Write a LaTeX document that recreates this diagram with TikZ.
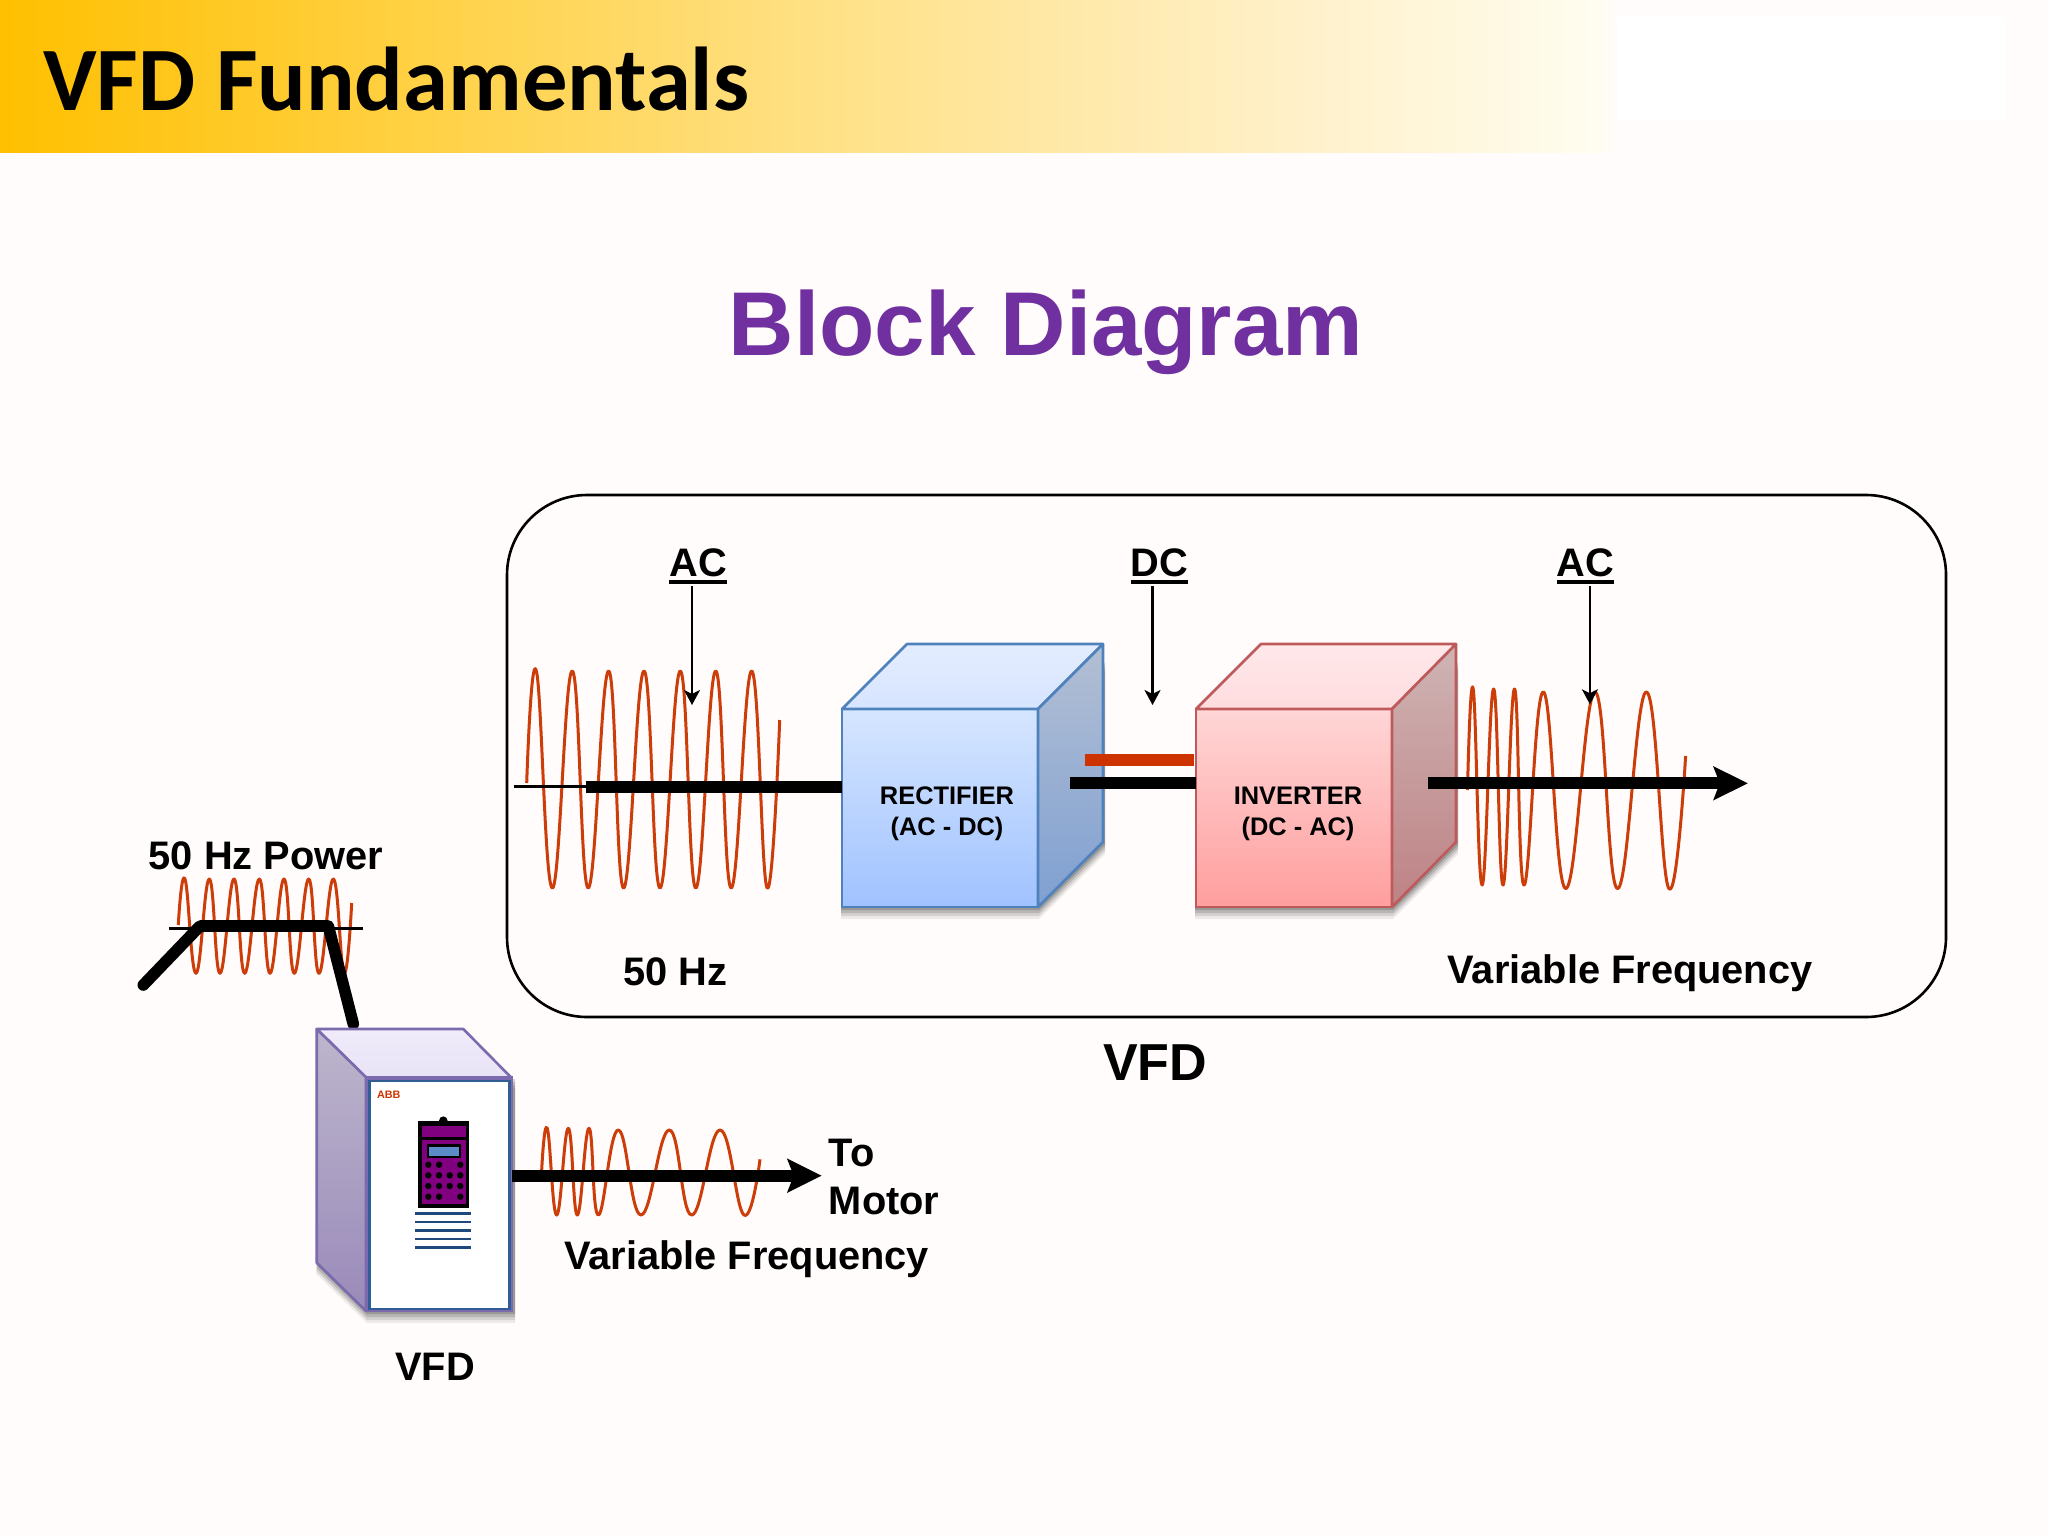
\documentclass[tikz,border=0pt]{standalone}
\usepackage{fontspec}
\setmainfont{Liberation Sans}
\newfontfamily\carlito{Carlito}
\usetikzlibrary{arrows.meta}
\definecolor{pagebg}{HTML}{FFFCFB}
\definecolor{wavered}{HTML}{CC3D0A}
\definecolor{barred}{HTML}{CC3300}
\definecolor{titlepurple}{HTML}{7030A0}
\definecolor{bluedge}{HTML}{4F81BD}
\definecolor{rededge}{HTML}{BE5A5C}
\definecolor{purpedge}{HTML}{7B6BAE}
\definecolor{frontblue}{HTML}{2F5D94}
\definecolor{padpurple}{HTML}{800080}
\definecolor{padblue}{HTML}{5B8CC8}
\definecolor{padline}{HTML}{1F497D}
\definecolor{headA}{HTML}{FFC000}
\definecolor{headB}{HTML}{FFE082}
\definecolor{headC}{HTML}{FFF0C8}
\definecolor{headD}{HTML}{FFFDF0}
\definecolor{blueF1}{HTML}{D6E6FF}
\definecolor{blueF2}{HTML}{A0C2FF}
\definecolor{blueT1}{HTML}{E4EDFF}
\definecolor{blueT2}{HTML}{D6E4FF}
\definecolor{blueS1}{HTML}{B3BFD3}
\definecolor{blueS2}{HTML}{7FA0D2}
\definecolor{redF1}{HTML}{FFD6D6}
\definecolor{redF2}{HTML}{FF9E9E}
\definecolor{redT1}{HTML}{FFE8EA}
\definecolor{redT2}{HTML}{FFDCDE}
\definecolor{redS1}{HTML}{CFB4B4}
\definecolor{redS2}{HTML}{BE8284}
\definecolor{purpT1}{HTML}{F0ECFA}
\definecolor{purpT2}{HTML}{E8E2F6}
\definecolor{purpS1}{HTML}{BDB6CC}
\definecolor{purpS2}{HTML}{9A8ABA}
% the path covers 25bp..75bp of a shading
\pgfdeclarehorizontalshading{headbar}{100bp}{
  color(0bp)=(headA); color(25bp)=(headA);
  color(44.5bp)=(headB); color(56.5bp)=(headC);
  color(64bp)=(headD); color(64.5bp)=(pagebg); color(100bp)=(pagebg)}
\newcommand\fs[1]{\fontsize{#1}{#1}\selectfont}
\newcommand\ulbox[1]{\setbox0\hbox{#1}\rlap{\rule[-4pt]{\wd0}{2.1pt}}\box0}
\tikzset{
  wave/.style={draw=wavered,line width=1.5pt,line join=round},
  thinaxis/.style={draw=black,line width=1.25pt},
  bar/.style={draw=black,line width=5.9pt},
  bigarrow/.style={bar,-{Stealth[length=17pt,width=16.5pt,inset=3pt]}},
  pointer/.style={draw=black,line width=1.2pt,-{Stealth[length=7.5pt,width=8pt,inset=2pt]}},
  lab/.style={anchor=base,inner sep=0pt,font=\bfseries\fs{19.9}},
  blocklab/.style={anchor=base,inner sep=0pt,font=\bfseries\fs{12.7}},
  front/.style={rectangle,draw,line width=1.3pt,inner sep=0pt,outer sep=0pt,anchor=north west},
  face/.style={line width=1.3pt,line join=round},
  padkey/.style={circle,fill=black,inner sep=0pt,minimum size=3.2pt}
}
\begin{document}
\begin{tikzpicture}[x=0.5pt,y=-0.5pt]
  \useasboundingbox (0,0) rectangle (2048,1536);
  \fill[pagebg] (0,0) rectangle (2048,1536);

  % header
  \shade[shading=headbar] (0,0) rectangle (2048,152);
  \fill[white] (1617,17) rectangle (2005,120);
  \node[anchor=base west,inner sep=0pt,font=\carlito\bfseries\fs{45.3}] (head) at (43,111) {VFD Fundamentals};
  \node[anchor=base,inner sep=0pt,text=titlepurple,font=\bfseries\fs{45.3}] (title) at (1046,355) {Block Diagram};

  % frame
  \draw[black,line width=1.3pt,rounded corners=40pt] (507,495) rectangle (1946,1017);
  \node[anchor=base,inner sep=0pt,font=\bfseries\fs{26}] (vfdbig) at (1155,1080) {VFD};

  % wave in
  \coordinate (axisL) at (513.6,786.7);
  \coordinate (barL) at (585.8,786.7);
  \draw[wave] plot[smooth,tension=0.75] coordinates {(526.7,783) (536.4,671) (552.4,888) (572.2,671) (588.2,888) (608.6,671) (623.6,888) (644,671) (660,888) (680.3,671) (695.8,888) (715.7,671) (731.2,888) (751.6,671) (767.1,888) (779.7,720)};
  \draw[thinaxis] (axisL) -- (barL);

  % rectifier cube
  \foreach \d/\o in {12/.07,9/.10,6/.13,3/.16}{
    \fill[black,opacity=\o,shift={(1,\d)}] (840,709) -- (840,907) -- (1038,907) -- (1104,842) -- (1104,660) -- (1038,709) -- cycle;
  }
  \node[front,draw=bluedge,top color=blueF1,bottom color=blueF2,minimum width=98pt,minimum height=99pt] (rect) at (842,709) {};
  \draw[face,draw=bluedge,top color=blueT1,bottom color=blueT2] (rect.north west) -- (907,644) -- (1103,644) -- (rect.north east) -- cycle;
  \draw[face,draw=bluedge,top color=blueS1,bottom color=blueS2] (rect.north east) -- (1103,644) -- (1103,842) -- (rect.south east) -- cycle;
  \node[blocklab] (rect1) at (947,804) {RECTIFIER};
  \node[blocklab] (rect2) at (947,835) {(AC - DC)};
  \draw[bar] (barL) -- (rect.west |- barL);

  % inverter cube
  \foreach \d/\o in {12/.07,9/.10,6/.13,3/.16}{
    \fill[black,opacity=\o,shift={(1,\d)}] (1194,709) -- (1194,907) -- (1392,907) -- (1457,842) -- (1457,660) -- (1392,709) -- cycle;
  }
  \node[front,draw=rededge,top color=redF1,bottom color=redF2,minimum width=98pt,minimum height=99pt] (inv) at (1196,709) {};
  \draw[face,draw=rededge,top color=redT1,bottom color=redT2] (inv.north west) -- (1261,644) -- (1456,644) -- (inv.north east) -- cycle;
  \draw[face,draw=rededge,top color=redS1,bottom color=redS2] (inv.north east) -- (1456,644) -- (1456,842) -- (inv.south east) -- cycle;
  \node[blocklab] (inv1) at (1298,804) {INVERTER};
  \node[blocklab] (inv2) at (1298,835) {(DC - AC)};

  % dc link
  \coordinate (dcR) at (1085,760);
  \coordinate (dcB) at (1069.6,783.3);
  \draw[line width=5.7pt,barred] (dcR) -- ([xshift=-1pt]inv.west |- dcR);
  \draw[bar] (dcB) -- (inv.west |- dcB);

  % wave out
  \draw[wave] plot[smooth,tension=0.75] coordinates {(1467.5,790) (1473.2,689) (1482.1,885) (1493.6,689) (1503,885) (1514.5,689) (1524,885) (1543.3,692) (1565.8,888.5) (1595,692) (1617.6,888.5) (1646.3,692) (1668.8,888.5) (1685.6,756)};
  \coordinate (outS) at (1427.7,783.3);
  \coordinate (outE) at (1747.8,783.3);
  \draw[bigarrow] (outS) -- (outE);

  % pointers and their labels
  \node[lab] (ac1) at (698,576) {\ulbox{AC}};
  \node[lab] (dc) at (1159.5,576) {\ulbox{DC}};
  \node[lab] (ac2) at (1585.5,576) {\ulbox{AC}};
  \coordinate (tipA) at (692,705);
  \coordinate (tipB) at (1152.5,705);
  \coordinate (tipC) at (1589.9,704.3);
  \draw[pointer] (692,586) -- (tipA);
  \draw[pointer] (1152.5,586) -- (tipB);
  \draw[pointer] (1589.9,586) -- (tipC);
  \node[lab] (hz) at (675,985) {50 Hz};
  \node[lab] (varup) at (1630,983.3) {Variable Frequency};

  % supply wave
  \node[lab] (supply) at (266,869) {50 Hz Power};
  \draw[wave] plot[smooth,tension=0.75] coordinates {(178.3,925) (185,879) (196,973.3) (209.3,879) (220,973.3) (234,879) (244.7,973.3) (259.3,879) (270,973.3) (284,879) (294.3,973.3) (308.7,879) (319,973.3) (333.3,879) (344,973.3) (351.7,903)};
  \coordinate (axisS) at (169,928.7);
  \coordinate (axisE) at (362.7,928.7);
  \draw[thinaxis] (axisS) -- (axisE);
  \coordinate (lineA) at (143.3,985);
  \coordinate (lineB) at (200,926);
  \coordinate (lineC) at (328.3,926);
  \coordinate (lineD) at (353.3,1024);
  \draw[line width=5.8pt,line cap=round,line join=round] (lineA) -- (lineB) -- (lineC) -- (lineD);

  % drive cabinet
  \foreach \d/\o in {11/.07,8/.10,5/.13,2/.16}{
    \fill[black,opacity=\o,shift={(1,\d)}] (315,1262.7) -- (366,1312) -- (514,1312) -- (514,1077) -- (366,1077) -- cycle;
  }
  \draw[face,draw=purpedge,top color=purpT1,bottom color=purpT2] (316.7,1029) -- (463.3,1029) -- (511,1077.3) -- (366,1077.3) -- cycle;
  \draw[face,draw=purpedge,top color=purpS1,bottom color=purpS2] (316.7,1029) -- (366,1077.3) -- (366,1311) -- (316.7,1262.7) -- cycle;
  \node[front,draw=purpedge,fill=purpedge,minimum width=73pt,minimum height=117pt] (cab) at (366,1077) {};
  \node[front,draw=frontblue,fill=white,minimum width=70pt,minimum height=114pt] (door) at (369.5,1081) {};
  \node[anchor=base west,inner sep=0pt,text=barred,font=\bfseries\fs{5.4}] (abb) at (376.7,1098.7) {ABB};

  % keypad
  \fill[black] (443.3,1120.7) circle [radius=4.3];
  \fill[black] (418.3,1120.7) rectangle (469.3,1207.7);
  \fill[padpurple] (421.7,1125.7) rectangle (465.7,1137);
  \fill[padpurple] (421.7,1140) rectangle (465.7,1204);
  \fill[black] (426.7,1144) rectangle (461.3,1158);
  \fill[padblue] (429.3,1146.7) rectangle (459,1156);
  \foreach \x/\y in {428.3/1164.7,439/1164.7,460.3/1164.7,
                     428.3/1175.3,439/1175.3,449.7/1175.3,460.3/1175.3,
                     428.3/1186,439/1186,449.7/1186,460.3/1186,
                     428.3/1196.7,439/1196.7,460.3/1196.7}{
    \node[padkey] at (\x,\y) {};
  }
  \foreach \y in {1213.3,1222,1230.3,1239,1247.7}{
    \draw[padline,line width=1.25pt] (415,\y) -- (471,\y);
  }
  \node[lab] (vfdsmall) at (435,1380) {VFD};

  % output of the drive
  \draw[wave] plot[smooth,tension=0.75] coordinates {(541.7,1170) (547.3,1128.3) (556.7,1215) (568.3,1128.3) (577.3,1215) (589,1128.3) (598.3,1215) (618.3,1130) (641,1215) (669.3,1130) (691.7,1215) (720,1130) (744,1215) (760,1159.3)};
  \coordinate (motorE) at (821.7,1175.7);
  \draw[bigarrow] (cab.east |- motorE) -- (motorE);
  \node[lab,anchor=base west] (to) at (828.3,1166.7) {To};
  \node[lab,anchor=base west] (motor) at (828.5,1214.3) {Motor};
  \node[lab] (varlow) at (746.6,1269) {Variable Frequency};
\end{tikzpicture}
\end{document}
